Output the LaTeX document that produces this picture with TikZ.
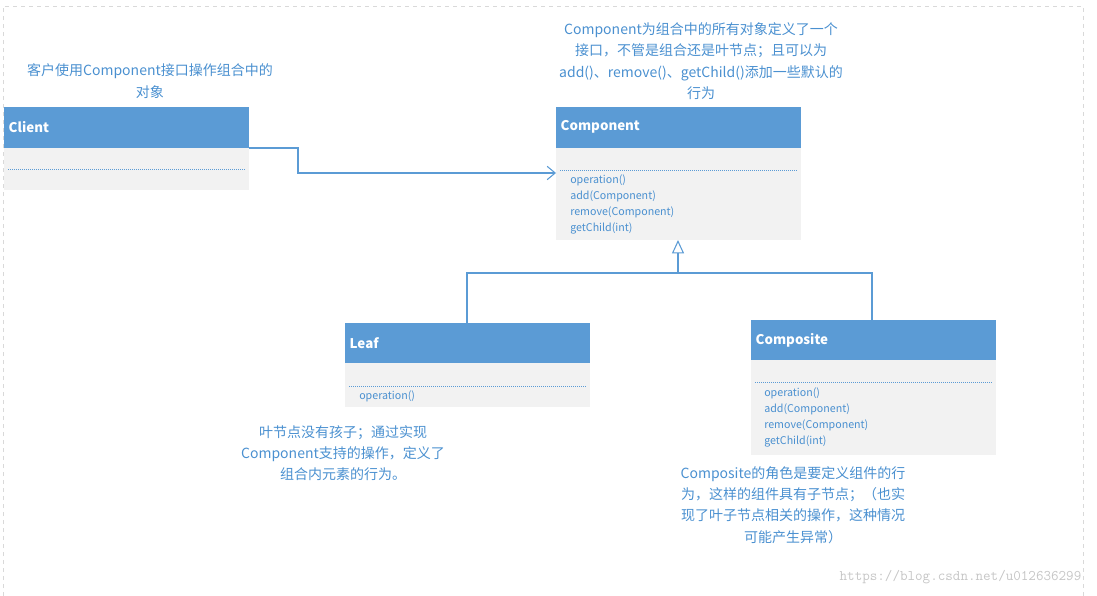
\documentclass[tikz,border=0pt]{standalone}
\usepackage{fontspec}
\setmainfont{Noto Sans CJK SC}
\usetikzlibrary{arrows.meta}
\definecolor{hd}{HTML}{5B9BD5}
\definecolor{bd}{HTML}{F2F2F2}
\definecolor{tx}{HTML}{4A90D0}
\tikzset{
 hdr/.style={fill=hd,draw=none},
 bdy/.style={fill=bd,draw=none},
 dl/.style={hd,densely dotted,line width=0.5pt},
 htxt/.style={anchor=west,text=white,font=\fontsize{10}{12}\selectfont\bfseries},
 mtxt/.style={anchor=west,text=tx,font=\fontsize{8}{10}\selectfont,inner sep=0pt},
 note/.style={text=tx,align=center,font=\fontsize{10.5}{16}\selectfont},
 ln/.style={hd,line width=0.8pt}
}
\begin{document}
\begin{tikzpicture}[x=0.75pt,y=-0.75pt]
\useasboundingbox (0,0) rectangle (1097,596);
\draw[gray!30,dashed] (3,596) -- (3,6) -- (1083,6) -- (1083,596);
% Client
\fill[hdr] (4,107) rectangle (249,148);
\fill[bdy] (4,148) rectangle (249,190);
\draw[dl] (8,169) -- (246,169);
\node[htxt] (client) at (4,127) {Client};
\coordinate (cr) at (249,148);
% Component
\fill[hdr] (556,107) rectangle (801,148);
\fill[bdy] (556,148) rectangle (801,240);
\draw[dl] (560,170) -- (798,170);
\node[htxt] (comp) at (556,127) {Component};
\node[mtxt] at (570,180) {operation()};
\node[mtxt] at (570,196) {add(Component)};
\node[mtxt] at (570,212) {remove(Component)};
\node[mtxt] at (570,228) {getChild(int)};
\coordinate (cl) at (556,173);
\coordinate (cb) at (678,240);
% Leaf
\fill[hdr] (345,323) rectangle (590,363);
\fill[bdy] (345,363) rectangle (590,407);
\draw[dl] (349,386) -- (587,386);
\node[htxt] (leaf) at (345,343) {Leaf};
\node[mtxt] at (359,396) {operation()};
\coordinate (lt) at (467,323);
% Composite
\fill[hdr] (751,320) rectangle (996,360);
\fill[bdy] (751,360) rectangle (996,455);
\draw[dl] (755,382) -- (993,382);
\node[htxt] (compo) at (751,340) {Composite};
\node[mtxt] at (764,393) {operation()};
\node[mtxt] at (764,409) {add(Component)};
\node[mtxt] at (764,425) {remove(Component)};
\node[mtxt] at (764,441) {getChild(int)};
\coordinate (ot) at (872,320);
% connectors
\draw[ln,-{Straight Barb[length=6pt,width=10pt]}] (cr) -- (298,148) -- (298,173) -- (cl);
\draw[ln] (lt) -- (467,273) -- (872,273) -- (ot);
\draw[ln,-{Triangle[open,length=10pt,width=9pt,fill=white]}] (678,273) -- (cb);
% notes
\node[note] at (701,61) {Component为组合中的所有对象定义了一个\\接口，不管是组合还是叶节点；且可以为\\add()、remove()、getChild()添加一些默认的\\行为};
\node[note] at (150,81) {客户使用Component接口操作组合中的\\对象};
\node[note] at (343,453) {叶节点没有孩子；通过实现\\Component支持的操作，定义了\\组合内元素的行为。};
\node[note] at (793,505) {Composite的角色是要定义组件的行\\为，这样的组件具有子节点；（也实\\现了叶子节点相关的操作，这种情况\\可能产生异常）};
\node[text=gray!45,font=\fontsize{11}{12}\selectfont\ttfamily,anchor=east] at (1086,577) {https://blog.csdn.net/u012636299};
\end{tikzpicture}
\end{document}
